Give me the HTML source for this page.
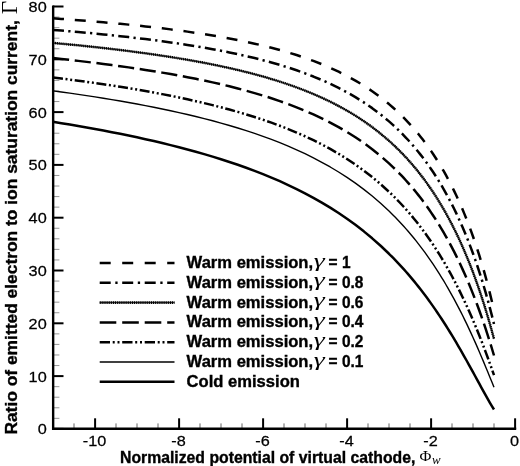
<!DOCTYPE html>
<html><head><meta charset="utf-8"><title>Plot</title>
<style>html,body{margin:0;padding:0;background:#fff}svg{display:block;filter:blur(0.3px)}text{font-family:"Liberation Sans",sans-serif;fill:#000}.t{stroke:#000;stroke-width:0.25px}.b{font-weight:bold;stroke:#000;stroke-width:0.35px}.s{font-family:"Liberation Serif",serif;font-weight:normal}</style></head><body>
<svg width="520" height="466" viewBox="0 0 520 466">
<rect width="520" height="466" fill="#fff"/>
<g stroke="#666" stroke-width="1.0">
<line x1="53" x2="59.4" y1="418.34" y2="418.34" stroke="#8c8c8c" stroke-width="0.9"/>
<line x1="53" x2="59.4" y1="407.78" y2="407.78" stroke="#8c8c8c" stroke-width="0.9"/>
<line x1="53" x2="59.4" y1="397.22" y2="397.22" stroke="#8c8c8c" stroke-width="0.9"/>
<line x1="53" x2="59.4" y1="386.66" y2="386.66" stroke="#8c8c8c" stroke-width="0.9"/>
<line x1="53" x2="59.4" y1="365.54" y2="365.54" stroke="#8c8c8c" stroke-width="0.9"/>
<line x1="53" x2="59.4" y1="354.98" y2="354.98" stroke="#8c8c8c" stroke-width="0.9"/>
<line x1="53" x2="59.4" y1="344.42" y2="344.42" stroke="#8c8c8c" stroke-width="0.9"/>
<line x1="53" x2="59.4" y1="333.86" y2="333.86" stroke="#8c8c8c" stroke-width="0.9"/>
<line x1="53" x2="59.4" y1="312.74" y2="312.74" stroke="#8c8c8c" stroke-width="0.9"/>
<line x1="53" x2="59.4" y1="302.18" y2="302.18" stroke="#8c8c8c" stroke-width="0.9"/>
<line x1="53" x2="59.4" y1="291.62" y2="291.62" stroke="#8c8c8c" stroke-width="0.9"/>
<line x1="53" x2="59.4" y1="281.06" y2="281.06" stroke="#8c8c8c" stroke-width="0.9"/>
<line x1="53" x2="59.4" y1="259.94" y2="259.94" stroke="#8c8c8c" stroke-width="0.9"/>
<line x1="53" x2="59.4" y1="249.38" y2="249.38" stroke="#8c8c8c" stroke-width="0.9"/>
<line x1="53" x2="59.4" y1="238.82" y2="238.82" stroke="#8c8c8c" stroke-width="0.9"/>
<line x1="53" x2="59.4" y1="228.26" y2="228.26" stroke="#8c8c8c" stroke-width="0.9"/>
<line x1="53" x2="59.4" y1="207.14" y2="207.14" stroke="#8c8c8c" stroke-width="0.9"/>
<line x1="53" x2="59.4" y1="196.58" y2="196.58" stroke="#8c8c8c" stroke-width="0.9"/>
<line x1="53" x2="59.4" y1="186.02" y2="186.02" stroke="#8c8c8c" stroke-width="0.9"/>
<line x1="53" x2="59.4" y1="175.46" y2="175.46" stroke="#8c8c8c" stroke-width="0.9"/>
<line x1="53" x2="59.4" y1="154.34" y2="154.34" stroke="#8c8c8c" stroke-width="0.9"/>
<line x1="53" x2="59.4" y1="143.78" y2="143.78" stroke="#8c8c8c" stroke-width="0.9"/>
<line x1="53" x2="59.4" y1="133.22" y2="133.22" stroke="#8c8c8c" stroke-width="0.9"/>
<line x1="53" x2="59.4" y1="122.66" y2="122.66" stroke="#8c8c8c" stroke-width="0.9"/>
<line x1="53" x2="59.4" y1="101.54" y2="101.54" stroke="#8c8c8c" stroke-width="0.9"/>
<line x1="53" x2="59.4" y1="90.98" y2="90.98" stroke="#8c8c8c" stroke-width="0.9"/>
<line x1="53" x2="59.4" y1="80.42" y2="80.42" stroke="#8c8c8c" stroke-width="0.9"/>
<line x1="53" x2="59.4" y1="69.86" y2="69.86" stroke="#8c8c8c" stroke-width="0.9"/>
<line x1="53" x2="59.4" y1="48.74" y2="48.74" stroke="#8c8c8c" stroke-width="0.9"/>
<line x1="53" x2="59.4" y1="38.18" y2="38.18" stroke="#8c8c8c" stroke-width="0.9"/>
<line x1="53" x2="59.4" y1="27.62" y2="27.62" stroke="#8c8c8c" stroke-width="0.9"/>
<line x1="53" x2="59.4" y1="17.06" y2="17.06" stroke="#8c8c8c" stroke-width="0.9"/>
<line x1="74.00" x2="74.00" y1="429" y2="423.4"/>
<line x1="116.00" x2="116.00" y1="429" y2="423.4"/>
<line x1="137.00" x2="137.00" y1="429" y2="423.4"/>
<line x1="158.00" x2="158.00" y1="429" y2="423.4"/>
<line x1="200.00" x2="200.00" y1="429" y2="423.4"/>
<line x1="221.00" x2="221.00" y1="429" y2="423.4"/>
<line x1="242.00" x2="242.00" y1="429" y2="423.4"/>
<line x1="284.00" x2="284.00" y1="429" y2="423.4"/>
<line x1="305.00" x2="305.00" y1="429" y2="423.4"/>
<line x1="326.00" x2="326.00" y1="429" y2="423.4"/>
<line x1="368.00" x2="368.00" y1="429" y2="423.4"/>
<line x1="389.00" x2="389.00" y1="429" y2="423.4"/>
<line x1="410.00" x2="410.00" y1="429" y2="423.4"/>
<line x1="452.00" x2="452.00" y1="429" y2="423.4"/>
<line x1="473.00" x2="473.00" y1="429" y2="423.4"/>
<line x1="494.00" x2="494.00" y1="429" y2="423.4"/>
</g>
<g stroke="#000" stroke-width="2.0">
<line x1="53" x2="63.5" y1="428.90" y2="428.90"/>
<line x1="53" x2="63.5" y1="376.10" y2="376.10"/>
<line x1="53" x2="63.5" y1="323.30" y2="323.30"/>
<line x1="53" x2="63.5" y1="270.50" y2="270.50"/>
<line x1="53" x2="63.5" y1="217.70" y2="217.70"/>
<line x1="53" x2="63.5" y1="164.90" y2="164.90"/>
<line x1="53" x2="63.5" y1="112.10" y2="112.10"/>
<line x1="53" x2="63.5" y1="59.30" y2="59.30"/>
<line x1="53" x2="63.5" y1="6.50" y2="6.50"/>
<line x1="95.10" x2="95.10" y1="429" y2="418.3"/>
<line x1="179.10" x2="179.10" y1="429" y2="418.3"/>
<line x1="263.10" x2="263.10" y1="429" y2="418.3"/>
<line x1="347.10" x2="347.10" y1="429" y2="418.3"/>
<line x1="431.10" x2="431.10" y1="429" y2="418.3"/>
<line x1="515.10" x2="515.10" y1="429" y2="418.3"/>
</g>
<path d="M53.15 5.5V428.75H516.2" fill="none" stroke="#000" stroke-width="2.4" stroke-linejoin="miter"/>
<text class="t" transform="translate(46.7,434.30) scale(1.07,1)" font-size="15.2" text-anchor="end">0</text>
<text class="t" transform="translate(46.7,381.50) scale(1.07,1)" font-size="15.2" text-anchor="end">10</text>
<text class="t" transform="translate(46.7,328.70) scale(1.07,1)" font-size="15.2" text-anchor="end">20</text>
<text class="t" transform="translate(46.7,275.90) scale(1.07,1)" font-size="15.2" text-anchor="end">30</text>
<text class="t" transform="translate(46.7,223.10) scale(1.07,1)" font-size="15.2" text-anchor="end">40</text>
<text class="t" transform="translate(46.7,170.30) scale(1.07,1)" font-size="15.2" text-anchor="end">50</text>
<text class="t" transform="translate(46.7,117.50) scale(1.07,1)" font-size="15.2" text-anchor="end">60</text>
<text class="t" transform="translate(46.7,64.70) scale(1.07,1)" font-size="15.2" text-anchor="end">70</text>
<text class="t" transform="translate(46.7,11.90) scale(1.07,1)" font-size="15.2" text-anchor="end">80</text>
<text class="t" transform="translate(94.60,446.2) scale(1.07,1)" font-size="15.2" text-anchor="middle">-10</text>
<text class="t" transform="translate(178.60,446.2) scale(1.07,1)" font-size="15.2" text-anchor="middle">-8</text>
<text class="t" transform="translate(262.60,446.2) scale(1.07,1)" font-size="15.2" text-anchor="middle">-6</text>
<text class="t" transform="translate(346.60,446.2) scale(1.07,1)" font-size="15.2" text-anchor="middle">-4</text>
<text class="t" transform="translate(430.60,446.2) scale(1.07,1)" font-size="15.2" text-anchor="middle">-2</text>
<text class="t" transform="translate(514.60,446.2) scale(1.07,1)" font-size="15.2" text-anchor="middle">0</text>
<g fill="none" stroke="#000" stroke-linecap="butt" stroke-linejoin="round">
<path d="M53.00 18.32 L61.40 18.91 L69.80 19.53 L78.20 20.17 L86.60 20.84 L95.00 21.54 L103.40 22.26 L111.80 23.02 L120.20 23.81 L128.60 24.63 L137.00 25.49 L145.40 26.40 L153.80 27.34 L162.20 28.34 L170.60 29.38 L179.00 30.48 L187.40 31.63 L195.80 32.85 L204.20 34.14 L212.60 35.50 L221.00 36.94 L229.40 38.47 L237.80 40.10 L246.20 41.83 L254.60 43.68 L263.00 45.65 L271.40 47.76 L279.80 50.02 L288.20 52.45 L296.60 55.06 L305.00 57.88 L313.40 60.92 L321.80 64.22 L330.20 67.80 L338.60 71.69 L347.00 75.93 L355.40 80.56 L363.80 85.63 L372.20 91.19 L380.60 97.32 L389.00 104.07 L393.20 107.71 L395.30 109.60 L397.40 111.54 L399.50 113.53 L401.60 115.58 L403.70 117.67 L405.80 119.83 L407.90 122.04 L410.00 124.32 L412.10 126.65 L414.20 129.05 L416.30 131.52 L418.40 134.06 L420.50 136.67 L422.60 139.35 L424.70 142.11 L426.80 144.95 L428.90 147.88 L431.00 150.89 L433.10 153.99 L435.20 157.19 L437.30 160.48 L439.40 163.88 L441.50 167.38 L443.60 170.99 L445.70 174.72 L447.80 178.56 L449.90 182.53 L452.00 186.64 L454.10 190.88 L456.20 195.26 L458.30 199.79 L460.40 204.49 L462.50 209.35 L464.60 214.38 L466.70 219.60 L468.80 225.01 L470.90 230.63 L473.00 236.46 L475.10 242.53 L477.20 248.84 L479.30 255.41 L481.40 262.25 L483.50 269.40 L485.60 276.87 L487.70 284.67 L489.80 292.85 L491.90 301.43 L494.00 310.45" stroke-width="2.5" stroke-dasharray="11 10.85"/>
<path d="M53.00 29.90 L61.40 30.59 L69.80 31.29 L78.20 32.03 L86.60 32.79 L95.00 33.58 L103.40 34.41 L111.80 35.26 L120.20 36.16 L128.60 37.09 L137.00 38.06 L145.40 39.07 L153.80 40.13 L162.20 41.24 L170.60 42.40 L179.00 43.62 L187.40 44.91 L195.80 46.25 L204.20 47.67 L212.60 49.17 L221.00 50.75 L229.40 52.43 L237.80 54.20 L246.20 56.08 L254.60 58.08 L263.00 60.22 L271.40 62.49 L279.80 64.92 L288.20 67.52 L296.60 70.30 L305.00 73.30 L313.40 76.53 L321.80 80.01 L330.20 83.78 L338.60 87.86 L347.00 92.30 L355.40 97.12 L363.80 102.39 L372.20 108.15 L380.60 114.47 L389.00 121.41 L393.20 125.14 L395.30 127.08 L397.40 129.06 L399.50 131.10 L401.60 133.18 L403.70 135.32 L405.80 137.52 L407.90 139.77 L410.00 142.08 L412.10 144.45 L414.20 146.89 L416.30 149.39 L418.40 151.96 L420.50 154.60 L422.60 157.31 L424.70 160.09 L426.80 162.96 L428.90 165.90 L431.00 168.93 L433.10 172.05 L435.20 175.25 L437.30 178.55 L439.40 181.95 L441.50 185.45 L443.60 189.05 L445.70 192.76 L447.80 196.59 L449.90 200.54 L452.00 204.61 L454.10 208.81 L456.20 213.14 L458.30 217.62 L460.40 222.24 L462.50 227.02 L464.60 231.96 L466.70 237.07 L468.80 242.36 L470.90 247.84 L473.00 253.52 L475.10 259.40 L477.20 265.51 L479.30 271.84 L481.40 278.43 L483.50 285.28 L485.60 292.41 L487.70 299.84 L489.80 307.58 L491.90 315.67 L494.00 324.12" stroke-width="2.5" stroke-dasharray="11 4.3 2.25 4.3"/>
<path d="M53.00 42.90 L61.40 43.69 L69.80 44.49 L78.20 45.33 L86.60 46.20 L95.00 47.10 L103.40 48.03 L111.80 49.00 L120.20 50.01 L128.60 51.06 L137.00 52.15 L145.40 53.29 L153.80 54.48 L162.20 55.72 L170.60 57.01 L179.00 58.37 L187.40 59.79 L195.80 61.29 L204.20 62.85 L212.60 64.50 L221.00 66.24 L229.40 68.08 L237.80 70.01 L246.20 72.06 L254.60 74.24 L263.00 76.54 L271.40 79.00 L279.80 81.61 L288.20 84.40 L296.60 87.39 L305.00 90.58 L313.40 94.01 L321.80 97.71 L330.20 101.68 L338.60 105.98 L347.00 110.63 L355.40 115.67 L363.80 121.16 L372.20 127.13 L380.60 133.66 L389.00 140.81 L393.20 144.64 L395.30 146.62 L397.40 148.65 L399.50 150.73 L401.60 152.86 L403.70 155.05 L405.80 157.28 L407.90 159.58 L410.00 161.93 L412.10 164.34 L414.20 166.81 L416.30 169.35 L418.40 171.95 L420.50 174.61 L422.60 177.35 L424.70 180.16 L426.80 183.05 L428.90 186.01 L431.00 189.05 L433.10 192.18 L435.20 195.39 L437.30 198.69 L439.40 202.09 L441.50 205.58 L443.60 209.16 L445.70 212.86 L447.80 216.66 L449.90 220.56 L452.00 224.59 L454.10 228.74 L456.20 233.01 L458.30 237.41 L460.40 241.94 L462.50 246.62 L464.60 251.45 L466.70 256.42 L468.80 261.56 L470.90 266.87 L473.00 272.35 L475.10 278.02 L477.20 283.88 L479.30 289.94 L481.40 296.21 L483.50 302.71 L485.60 309.44 L487.70 316.42 L489.80 323.65 L491.90 331.16 L494.00 338.95" stroke-width="1.5" stroke="#333"/>
<path d="M53.00 42.90 L61.40 43.69 L69.80 44.49 L78.20 45.33 L86.60 46.20 L95.00 47.10 L103.40 48.03 L111.80 49.00 L120.20 50.01 L128.60 51.06 L137.00 52.15 L145.40 53.29 L153.80 54.48 L162.20 55.72 L170.60 57.01 L179.00 58.37 L187.40 59.79 L195.80 61.29 L204.20 62.85 L212.60 64.50 L221.00 66.24 L229.40 68.08 L237.80 70.01 L246.20 72.06 L254.60 74.24 L263.00 76.54 L271.40 79.00 L279.80 81.61 L288.20 84.40 L296.60 87.39 L305.00 90.58 L313.40 94.01 L321.80 97.71 L330.20 101.68 L338.60 105.98 L347.00 110.63 L355.40 115.67 L363.80 121.16 L372.20 127.13 L380.60 133.66 L389.00 140.81 L393.20 144.64 L395.30 146.62 L397.40 148.65 L399.50 150.73 L401.60 152.86 L403.70 155.05 L405.80 157.28 L407.90 159.58 L410.00 161.93 L412.10 164.34 L414.20 166.81 L416.30 169.35 L418.40 171.95 L420.50 174.61 L422.60 177.35 L424.70 180.16 L426.80 183.05 L428.90 186.01 L431.00 189.05 L433.10 192.18 L435.20 195.39 L437.30 198.69 L439.40 202.09 L441.50 205.58 L443.60 209.16 L445.70 212.86 L447.80 216.66 L449.90 220.56 L452.00 224.59 L454.10 228.74 L456.20 233.01 L458.30 237.41 L460.40 241.94 L462.50 246.62 L464.60 251.45 L466.70 256.42 L468.80 261.56 L470.90 266.87 L473.00 272.35 L475.10 278.02 L477.20 283.88 L479.30 289.94 L481.40 296.21 L483.50 302.71 L485.60 309.44 L487.70 316.42 L489.80 323.65 L491.90 331.16 L494.00 338.95" stroke-width="2.6" stroke-dasharray="1.1 0.8"/>
<path d="M53.00 58.10 L61.40 59.00 L69.80 59.92 L78.20 60.88 L86.60 61.87 L95.00 62.89 L103.40 63.96 L111.80 65.06 L120.20 66.20 L128.60 67.38 L137.00 68.61 L145.40 69.90 L153.80 71.23 L162.20 72.62 L170.60 74.07 L179.00 75.59 L187.40 77.17 L195.80 78.83 L204.20 80.57 L212.60 82.40 L221.00 84.31 L229.40 86.33 L237.80 88.46 L246.20 90.70 L254.60 93.08 L263.00 95.59 L271.40 98.25 L279.80 101.08 L288.20 104.09 L296.60 107.30 L305.00 110.72 L313.40 114.39 L321.80 118.32 L330.20 122.53 L338.60 127.07 L347.00 131.97 L355.40 137.26 L363.80 142.99 L372.20 149.21 L380.60 155.97 L389.00 163.35 L393.20 167.29 L395.30 169.32 L397.40 171.40 L399.50 173.53 L401.60 175.71 L403.70 177.95 L405.80 180.23 L407.90 182.57 L410.00 184.96 L412.10 187.41 L414.20 189.92 L416.30 192.49 L418.40 195.12 L420.50 197.81 L422.60 200.58 L424.70 203.41 L426.80 206.31 L428.90 209.29 L431.00 212.34 L433.10 215.47 L435.20 218.68 L437.30 221.98 L439.40 225.36 L441.50 228.83 L443.60 232.39 L445.70 236.05 L447.80 239.80 L449.90 243.65 L452.00 247.61 L454.10 251.68 L456.20 255.87 L458.30 260.16 L460.40 264.58 L462.50 269.12 L464.60 273.79 L466.70 278.60 L468.80 283.54 L470.90 288.63 L473.00 293.86 L475.10 299.25 L477.20 304.79 L479.30 310.50 L481.40 316.38 L483.50 322.44 L485.60 328.67 L487.70 335.09 L489.80 341.70 L491.90 348.50 L494.00 355.50" stroke-width="2.5" stroke-dasharray="16.2 5.65"/>
<path d="M53.00 77.48 L61.40 78.52 L69.80 79.59 L78.20 80.70 L86.60 81.84 L95.00 83.03 L103.40 84.25 L111.80 85.51 L120.20 86.82 L128.60 88.18 L137.00 89.58 L145.40 91.05 L153.80 92.56 L162.20 94.14 L170.60 95.79 L179.00 97.50 L187.40 99.29 L195.80 101.16 L204.20 103.11 L212.60 105.15 L221.00 107.29 L229.40 109.54 L237.80 111.90 L246.20 114.39 L254.60 117.01 L263.00 119.77 L271.40 122.69 L279.80 125.79 L288.20 129.07 L296.60 132.55 L305.00 136.26 L313.40 140.21 L321.80 144.43 L330.20 148.94 L338.60 153.78 L347.00 158.97 L355.40 164.56 L363.80 170.59 L372.20 177.09 L380.60 184.14 L389.00 191.77 L393.20 195.83 L395.30 197.93 L397.40 200.07 L399.50 202.25 L401.60 204.49 L403.70 206.77 L405.80 209.10 L407.90 211.48 L410.00 213.92 L412.10 216.41 L414.20 218.95 L416.30 221.56 L418.40 224.22 L420.50 226.94 L422.60 229.72 L424.70 232.57 L426.80 235.48 L428.90 238.46 L431.00 241.51 L433.10 244.63 L435.20 247.82 L437.30 251.09 L439.40 254.44 L441.50 257.86 L443.60 261.37 L445.70 264.96 L447.80 268.63 L449.90 272.39 L452.00 276.25 L454.10 280.19 L456.20 284.23 L458.30 288.37 L460.40 292.61 L462.50 296.94 L464.60 301.39 L466.70 305.93 L468.80 310.59 L470.90 315.36 L473.00 320.23 L475.10 325.22 L477.20 330.32 L479.30 335.54 L481.40 340.87 L483.50 346.31 L485.60 351.86 L487.70 357.52 L489.80 363.28 L491.90 369.14 L494.00 375.07" stroke-width="2.5" stroke-dasharray="10 2.6 2 2.7 2 2.6"/>
<path d="M53.00 90.86 L61.40 92.00 L69.80 93.17 L78.20 94.38 L86.60 95.62 L95.00 96.91 L103.40 98.24 L111.80 99.61 L120.20 101.03 L128.60 102.50 L137.00 104.03 L145.40 105.61 L153.80 107.25 L162.20 108.96 L170.60 110.73 L179.00 112.58 L187.40 114.50 L195.80 116.50 L204.20 118.60 L212.60 120.79 L221.00 123.08 L229.40 125.48 L237.80 128.00 L246.20 130.64 L254.60 133.42 L263.00 136.36 L271.40 139.45 L279.80 142.72 L288.20 146.17 L296.60 149.84 L305.00 153.73 L313.40 157.87 L321.80 162.27 L330.20 166.98 L338.60 172.00 L347.00 177.39 L355.40 183.16 L363.80 189.37 L372.20 196.05 L380.60 203.26 L389.00 211.05 L393.20 215.19 L395.30 217.31 L397.40 219.49 L399.50 221.70 L401.60 223.96 L403.70 226.27 L405.80 228.63 L407.90 231.03 L410.00 233.49 L412.10 236.00 L414.20 238.56 L416.30 241.17 L418.40 243.84 L420.50 246.57 L422.60 249.35 L424.70 252.20 L426.80 255.10 L428.90 258.07 L431.00 261.10 L433.10 264.20 L435.20 267.37 L437.30 270.60 L439.40 273.91 L441.50 277.28 L443.60 280.73 L445.70 284.26 L447.80 287.86 L449.90 291.54 L452.00 295.29 L454.10 299.13 L456.20 303.05 L458.30 307.06 L460.40 311.14 L462.50 315.31 L464.60 319.57 L466.70 323.91 L468.80 328.34 L470.90 332.86 L473.00 337.46 L475.10 342.14 L477.20 346.90 L479.30 351.74 L481.40 356.66 L483.50 361.64 L485.60 366.69 L487.70 371.79 L489.80 376.93 L491.90 382.11 L494.00 387.29" stroke-width="1.4"/>
<path d="M53.00 121.84 L61.40 123.19 L69.80 124.57 L78.20 126.00 L86.60 127.47 L95.00 128.98 L103.40 130.55 L111.80 132.16 L120.20 133.82 L128.60 135.54 L137.00 137.32 L145.40 139.16 L153.80 141.07 L162.20 143.04 L170.60 145.09 L179.00 147.22 L187.40 149.43 L195.80 151.73 L204.20 154.13 L212.60 156.62 L221.00 159.23 L229.40 161.94 L237.80 164.79 L246.20 167.76 L254.60 170.88 L263.00 174.16 L271.40 177.60 L279.80 181.22 L288.20 185.03 L296.60 189.06 L305.00 193.31 L313.40 197.81 L321.80 202.58 L330.20 207.64 L338.60 213.02 L347.00 218.74 L355.40 224.84 L363.80 231.36 L372.20 238.33 L380.60 245.78 L389.00 253.77 L393.20 257.98 L395.30 260.14 L397.40 262.34 L399.50 264.58 L401.60 266.85 L403.70 269.17 L405.80 271.54 L407.90 273.94 L410.00 276.39 L412.10 278.88 L414.20 281.41 L416.30 283.99 L418.40 286.62 L420.50 289.29 L422.60 292.02 L424.70 294.79 L426.80 297.61 L428.90 300.47 L431.00 303.39 L433.10 306.36 L435.20 309.39 L437.30 312.46 L439.40 315.58 L441.50 318.76 L443.60 321.99 L445.70 325.27 L447.80 328.60 L449.90 331.99 L452.00 335.42 L454.10 338.90 L456.20 342.44 L458.30 346.02 L460.40 349.64 L462.50 353.31 L464.60 357.01 L466.70 360.76 L468.80 364.54 L470.90 368.34 L473.00 372.17 L475.10 376.01 L477.20 379.86 L479.30 383.71 L481.40 387.55 L483.50 391.37 L485.60 395.14 L487.70 398.87 L489.80 402.52 L491.90 406.07 L494.00 409.50" stroke-width="2.5"/>
<path d="M99.7 263.00H174.5" stroke-width="2.5" stroke-dasharray="11 11.5"/>
<path d="M99.7 282.80H174.5" stroke-width="2.5" stroke-dasharray="11 4.6 2.3 4.6"/>
<path d="M99.7 302.60H174.5" stroke-width="1.5" stroke="#333"/>
<path d="M99.7 302.60H174.5" stroke-width="2.6" stroke-dasharray="1.1 0.8"/>
<path d="M99.7 322.40H174.5" stroke-width="2.5" stroke-dasharray="16.6 5.9"/>
<path d="M99.7 342.20H174.5" stroke-width="2.5" stroke-dasharray="10.3 2.7 2 2.8 2 2.7"/>
<path d="M99.7 362.00H174.5" stroke-width="1.4"/>
<path d="M99.7 381.80H174.5" stroke-width="2.5"/>
</g>
<text class="b" transform="translate(186.6,268.00) scale(1.037,1)" font-size="16">Warm emission,</text>
<text class="s" transform="translate(313.8,266.60) scale(1.5,1)" font-size="18.5" font-style="italic" fill="#3a3a3a">γ</text>
<text class="b" transform="translate(328.6,268.00) scale(0.965,1)" font-size="16">= 1</text>
<text class="b" transform="translate(186.6,287.80) scale(1.037,1)" font-size="16">Warm emission,</text>
<text class="s" transform="translate(313.8,286.40) scale(1.5,1)" font-size="18.5" font-style="italic" fill="#3a3a3a">γ</text>
<text class="b" transform="translate(328.6,287.80) scale(0.965,1)" font-size="16">= 0.8</text>
<text class="b" transform="translate(186.6,307.60) scale(1.037,1)" font-size="16">Warm emission,</text>
<text class="s" transform="translate(313.8,306.20) scale(1.5,1)" font-size="18.5" font-style="italic" fill="#3a3a3a">γ</text>
<text class="b" transform="translate(328.6,307.60) scale(0.965,1)" font-size="16">= 0.6</text>
<text class="b" transform="translate(186.6,327.40) scale(1.037,1)" font-size="16">Warm emission,</text>
<text class="s" transform="translate(313.8,326.00) scale(1.5,1)" font-size="18.5" font-style="italic" fill="#3a3a3a">γ</text>
<text class="b" transform="translate(328.6,327.40) scale(0.965,1)" font-size="16">= 0.4</text>
<text class="b" transform="translate(186.6,347.20) scale(1.037,1)" font-size="16">Warm emission,</text>
<text class="s" transform="translate(313.8,345.80) scale(1.5,1)" font-size="18.5" font-style="italic" fill="#3a3a3a">γ</text>
<text class="b" transform="translate(328.6,347.20) scale(0.965,1)" font-size="16">= 0.2</text>
<text class="b" transform="translate(186.6,367.00) scale(1.037,1)" font-size="16">Warm emission,</text>
<text class="s" transform="translate(313.8,365.60) scale(1.5,1)" font-size="18.5" font-style="italic" fill="#3a3a3a">γ</text>
<text class="b" transform="translate(328.6,367.00) scale(0.965,1)" font-size="16">= 0.1</text>
<text class="b" transform="translate(186.6,386.80) scale(1.037,1)" font-size="16">Cold emission</text>
<text class="b" transform="translate(120.0,463.0) scale(0.987,1)" font-size="16">Normalized potential of virtual cathode,</text>
<text class="s" transform="translate(419.6,461.4) scale(1.12,1)" font-size="14.5" fill="#222">Φ</text>
<text class="s" transform="translate(432,463.8) scale(1.12,1)" font-size="11.5" font-style="italic" fill="#222">w</text>
<text class="b" transform="translate(16.8,434.6) rotate(-90) scale(1.087,1)" font-size="16">Ratio of emitted electron to ion saturation current,</text>
<text class="s" transform="translate(16.9,14.2) rotate(-90)" font-size="23.5" fill="#222">Γ</text>
</svg></body></html>
